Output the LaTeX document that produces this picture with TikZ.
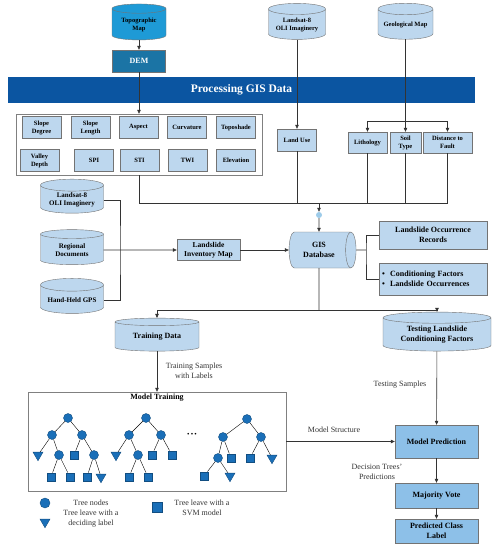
\documentclass[tikz,border=0pt]{standalone}
\usepackage{fontspec}
\setmainfont{Liberation Serif}
\usetikzlibrary{shapes.geometric,arrows.meta}

\definecolor{lb}{HTML}{BDD7EE}
\definecolor{mb}{HTML}{8DC0E8}
\definecolor{sky}{HTML}{1E9AD6}
\definecolor{demc}{HTML}{1B74A5}
\definecolor{banner}{HTML}{0B55A1}
\definecolor{tree}{HTML}{1A6FB8}

\begin{document}
\begin{tikzpicture}[x=1pt,y=-1pt,
    every node/.style={align=center},
    fa/.style={rectangle,draw=black!55,fill=lb,minimum width=39pt,minimum height=22pt,inner sep=1pt,font=\fontsize{6.5}{8}\selectfont\bfseries},
    bx/.style={rectangle,draw=black!55,fill=lb,inner sep=1pt,font=\fontsize{8}{10}\selectfont\bfseries},
    cyl/.style={cylinder,shape border rotate=90,draw=black!55,fill=lb,aspect=0.25,inner sep=1pt,font=\fontsize{6.5}{8}\selectfont\bfseries},
    lbl/.style={font=\fontsize{8}{10.5}\selectfont,text=black!80},
    ln/.style={draw=black!80,line width=0.6pt},
    arr/.style={-{Triangle[length=4pt,width=3.5pt]}},
    tn/.style={circle,draw=tree!70!black,fill=tree,minimum size=9pt,inner sep=0pt},
    tq/.style={rectangle,draw=tree!70!black,fill=tree,minimum size=8.5pt,inner sep=0pt},
    tt/.style={regular polygon,regular polygon sides=3,shape border rotate=180,draw=tree!70!black,fill=tree,minimum size=11.5pt,inner sep=0pt}]

    \useasboundingbox (0,0) rectangle (498,550);

    %sources on top:
    \node[cyl,fill=sky,minimum width=54pt,minimum height=36pt] (topo) at (139,25) {Topographic\\Map};
    \node[cyl,minimum width=57pt,minimum height=36pt] (ls1) at (297,25) {Landsat-8\\OLI Imaginery};
    \node[cyl,minimum width=55pt,minimum height=36pt] (geo) at (405.5,25) {Geological Map};
    \node[fa,fill=demc,text=white,minimum width=53pt,font=\fontsize{8}{9}\selectfont\bfseries] (dem) at (139,61) {DEM};

    %banner:
    \node[fill=banner,minimum width=467pt,minimum height=26pt,text=white,font=\fontsize{11.5}{13}\selectfont\bfseries] (proc) at (241.5,90) {Processing GIS Data};

    %conditioning factors:
    \node[draw=black!50,fill=white,minimum width=246pt,minimum height=61pt] (fbox) at (139,144.5) {};
    \node[fa] (sd) at (41.5,127.5) {Slope\\Degree};
    \node[fa] (sl) at (90.5,127.5) {Slope\\Length};
    \node[fa] (asp) at (138.5,127.5) {Aspect};
    \node[fa] (cur) at (187,127.5) {Curvature};
    \node[fa] (tps) at (236,127.5) {Toposhade};
    \node[fa] (vd) at (39.5,160.5) {Valley\\Depth};
    \node[fa] (spi) at (94,160.5) {SPI};
    \node[fa] (sti) at (139.5,160.5) {STI};
    \node[fa] (twi) at (187.5,160.5) {TWI};
    \node[fa] (ele) at (236,160.5) {Elevation};

    \node[fa] (lu) at (297,140) {Land Use};
    \node[fa,minimum height=21pt] (lit) at (367.5,142.5) {Lithology};
    \node[fa,minimum height=21pt,minimum width=31pt] (soil) at (405.5,142.5) {Soil\\Type};
    \node[fa,minimum height=21pt,minimum width=49pt] (dist) at (447.5,142.5) {Distance to\\Fault};

    \draw[ln,arr] (topo) -- (dem);
    \draw[ln,arr] (dem) -- (fbox);
    \draw[ln,arr] (ls1) -- (lu);
    \coordinate (gb) at (405.5,121);
    \draw[ln,arr] (geo) -- (soil);
    \draw[ln,arr] (gb) -| (lit);
    \draw[ln,arr] (gb) -| (dist);

    %collect factors:
    \coordinate (jn) at (319,203);
    \draw[ln] (fbox.south) |- (jn);
    \draw[ln] (dist.south) |- (jn);
    \draw[ln] (lu.south) -- (lu.south |- jn);
    \draw[ln] (lit.south) -- (lit.south |- jn);
    \draw[ln] (soil.south) -- (soil.south |- jn);
    \node[circle,fill=lb!80!sky,minimum size=6pt,inner sep=0pt] (dot) at (319,215) {};
    \node[cylinder,draw=black!55,fill=lb,aspect=0.6,minimum width=36pt,minimum height=67pt,inner sep=1pt,font=\fontsize{8}{10}\selectfont\bfseries] (db) at (319,250) {GIS\\Database};
    \draw[ln,arr] (jn) -- (dot);
    \draw[ln,arr] (dot) -- (db);

    %inventory:
    \node[cyl,minimum width=63pt,minimum height=34pt,font=\fontsize{7}{8.5}\selectfont\bfseries] (ls2) at (72,200) {Landsat-8\\OLI Imaginery};
    \node[cyl,minimum width=63pt,minimum height=35pt,font=\fontsize{7}{8.5}\selectfont\bfseries] (reg) at (72,250) {Regional\\Documents};
    \node[cyl,minimum width=63pt,minimum height=35pt,font=\fontsize{7}{8.5}\selectfont\bfseries] (gps) at (72,300) {Hand-Held GPS};
    \node[bx,minimum width=63pt,minimum height=21pt,font=\fontsize{7.5}{9}\selectfont\bfseries] (inv) at (208.5,250) {Landslide\\Inventory Map};
    \coordinate (lj) at (120,250);
    \draw[ln] (ls2.east) -| (lj) |- (gps.east);
    \draw[ln,arr] (reg.east) -- (inv);
    \draw[ln,arr] (inv) -- (db);

    %outputs of database:
    \node[bx,minimum width=108pt,minimum height=28pt] (rec) at (433,235) {Landslide Occurrence\\Records};
    \node[bx,minimum width=108pt,minimum height=32pt,text width=102pt,align=left] (cf) at (433,279) {\textbullet\ \ Conditioning Factors\\\textbullet\ \ Landslide Occurrences};
    \coordinate (rb) at (366,250);
    \draw[ln] (db.east) -- (rb);
    \draw[ln] (rec.west) -| (rb) |- (cf.west);

    \node[cyl,aspect=0.15,minimum width=84pt,minimum height=33pt,font=\fontsize{8}{10}\selectfont\bfseries] (trd) at (157,337) {Training Data};
    \node[cyl,aspect=0.15,minimum width=108pt,minimum height=39pt,font=\fontsize{8}{10}\selectfont\bfseries] (tst) at (437,335) {Testing Landslide\\Conditioning Factors};
    \coordinate (sp) at (319,310);
    \draw[ln] (db.south) -- (sp);
    \draw[ln,arr] (sp) -| (trd);
    \draw[ln,arr] (sp) -| (tst);

    %model training:
    \node[draw=black!50,minimum width=258pt,minimum height=99pt] (mt) at (157,441.5) {};
    \node[font=\fontsize{8}{9}\selectfont\bfseries] (mtt) at (157,398) {Model Training};
    \draw[ln,arr] (trd) -- (mt);
    \node[lbl] (tsl) at (194,371) {Training Samples\\with Labels};

    % tree 1
    \node[tn] (a0) at (68,418) {};
    \node[tn] (a1) at (52,435) {};
    \node[tn] (a2) at (82,435) {};
    \node[tt] (a3) at (38,455) {};
    \node[tn] (a4) at (59,455) {};
    \node[tq] (a5) at (74,455) {};
    \node[tn] (a6) at (94,455) {};
    \node[tq] (a7) at (51,477) {};
    \node[tq] (a8) at (70,477) {};
    \node[tq] (a9) at (87,477) {};
    \node[tt] (a10) at (101,477) {};
    \foreach \p/\c in {a0/a1,a0/a2,a1/a3,a1/a4,a2/a5,a2/a6,a4/a7,a4/a8,a6/a9,a6/a10}
        \draw (\p) -- (\c);

    % tree 2
    \node[tn] (b0) at (146,418) {};
    \node[tn] (b1) at (129,435) {};
    \node[tn] (b2) at (161,435) {};
    \node[tt] (b3) at (116,455) {};
    \node[tn] (b4) at (138,455) {};
    \node[tq] (b5) at (152,455) {};
    \node[tq] (b6) at (172,455) {};
    \node[tq] (b7) at (129,477) {};
    \node[tq] (b8) at (148,477) {};
    \foreach \p/\c in {b0/b1,b0/b2,b1/b3,b1/b4,b2/b5,b2/b6,b4/b7,b4/b8}
        \draw (\p) -- (\c);

    \node[font=\fontsize{7}{7}\selectfont] (dots) at (192,435) {\textbullet\,\textbullet\,\textbullet};

    % tree 3
    \node[tn] (c0) at (247,419) {};
    \node[tn] (c1) at (223,437) {};
    \node[tn] (c2) at (261,437) {};
    \node[tn] (c3) at (218,458) {};
    \node[tq] (c4) at (231,458) {};
    \node[tq] (c5) at (250,458) {};
    \node[tt] (c6) at (272,458) {};
    \node[tq] (c7) at (204,476) {};
    \node[tt] (c8) at (230,476) {};
    \foreach \p/\c in {c0/c1,c0/c2,c1/c3,c1/c4,c2/c5,c2/c6,c3/c7,c3/c8}
        \draw (\p) -- (\c);

    %legend:
    \node[tn,minimum size=10pt] (lg1) at (45,503) {};
    \node[lbl] (lt1) at (91,503) {Tree nodes};
    \node[tt] (lg2) at (45,522) {};
    \node[lbl] (lt2) at (91,518.5) {Tree leave with a\\deciding label};
    \node[tq,minimum size=10pt] (lg3) at (157,507) {};
    \node[lbl] (lt3) at (202,508) {Tree leave with a\\SVM model};

    %prediction:
    \node[bx,fill=mb,minimum width=83pt,minimum height=33pt] (mp) at (436.5,441.5) {Model Prediction};
    \node[bx,fill=mb,minimum width=83pt,minimum height=25pt] (mv) at (436.5,495.5) {Majority Vote};
    \node[bx,fill=mb,minimum width=83pt,minimum height=24pt] (pcl) at (436.5,531) {Predicted Class\\Label};
    \draw[ln,arr] (tst) -- (mp);
    \node[lbl] (tsa) at (400,385) {Testing Samples};
    \draw[ln,arr] (mt) -- (mp);
    \node[lbl] (ms) at (334,430) {Model Structure};
    \draw[ln,arr] (mp) -- (mv);
    \node[lbl] (dtp) at (377,472) {Decision Trees'\\Predictions};
    \draw[ln,arr] (mv) -- (pcl);

\end{tikzpicture}
\end{document}
